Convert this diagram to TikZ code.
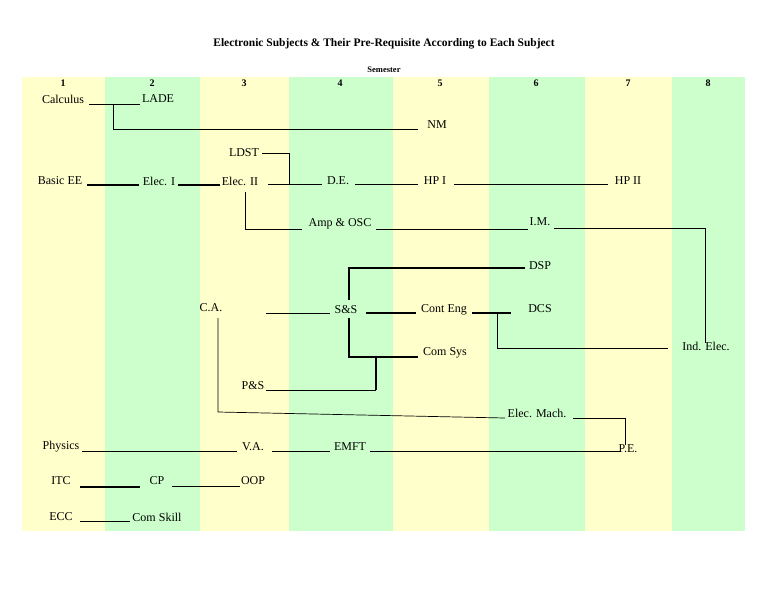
\documentclass[tikz,border=0pt]{standalone}
\usepackage{fontspec}
\setmainfont{Liberation Serif}
\definecolor{ylw}{HTML}{FFFFCC}
\definecolor{grn}{HTML}{CCFFCC}
\begin{document}
\begin{tikzpicture}[x=1pt,y=-1pt,
  subj/.style={inner sep=1pt,font=\fontsize{12}{13}\selectfont},
  hdr/.style={inner sep=1pt,font=\fontsize{10}{11}\selectfont\bfseries},
  ln/.style={line width=0.7pt},
  tk/.style={line width=1.4pt}]
\useasboundingbox (0,0) rectangle (768,594);
\fill[white] (0,0) rectangle (768,594);
\fill[ylw] (22,77) rectangle (105,531);
\fill[grn] (105,77) rectangle (200,531);
\fill[ylw] (200,77) rectangle (289,531);
\fill[grn] (289,77) rectangle (393,531);
\fill[ylw] (393,77) rectangle (489,531);
\fill[grn] (489,77) rectangle (585,531);
\fill[ylw] (585,77) rectangle (672,531);
\fill[grn] (672,77) rectangle (745,531);
\node[inner sep=0pt,font=\fontsize{11.5}{12}\selectfont\bfseries] (title) at (384,44) {Electronic Subjects \& Their Pre-Requisite According to Each Subject};
\node[inner sep=0pt,font=\fontsize{8.5}{9}\selectfont\bfseries] (sem) at (384,70) {Semester};
\foreach \x/\n in {63/1,152/2,244/3,340/4,440/5,536/6,628/7,708/8} \node[hdr] (h\n) at (\x,83) {\n};
\node[subj] (calc) at (63,99) {Calculus};
\node[subj] (lade) at (158,99) {LADE};
\node[subj] (nm) at (437,125) {NM};
\node[subj] (ldst) at (244,153) {LDST};
\node[subj] (bee) at (60,181) {Basic EE};
\node[subj] (e1) at (159,181) {Elec. I};
\node[subj] (e2) at (240,181) {Elec. II};
\node[subj] (de) at (338,181) {D.E.};
\node[subj] (hp1) at (435,181) {HP I};
\node[subj] (hp2) at (628,181) {HP II};
\node[subj] (amp) at (340,224) {Amp \& OSC};
\node[subj] (im) at (540,222) {I.M.};
\node[subj] (dsp) at (540,266) {DSP};
\node[subj] (ca) at (211,308) {C.A.};
\node[subj] (ss) at (346,310) {S\&S};
\node[subj] (ce) at (444,310) {Cont Eng};
\node[subj] (dcs) at (540,309) {DCS};
\node[subj] (ie) at (706,346) {Ind. Elec.};
\node[subj] (cs) at (445,353) {Com Sys};
\node[subj] (ps) at (253,386) {P\&S};
\node[subj] (em) at (537,413) {Elec. Mach.};
\node[subj] (phy) at (61,447) {Physics};
\node[subj] (va) at (253,447) {V.A.};
\node[subj] (emft) at (350,447) {EMFT};
\node[subj] (pe) at (628,449) {P.E.};
\node[subj] (itc) at (61,481) {ITC};
\node[subj] (cp) at (157,481) {CP};
\node[subj] (oop) at (253,481) {OOP};
\node[subj] (ecc) at (61,517) {ECC};
\node[subj] (csk) at (157,517) {Com Skill};
% connectors
\draw[ln] (89,104) -- (140,104);
\draw[ln] (113,104) |- (418,129);
\draw[ln] (262,153) -| (289,184);
\draw[tk] (87,185) -- (139,185);
\draw[tk] (178,185) -- (220,185);
\draw[ln] (268,184) -- (322,184);
\draw[ln] (355,184) -- (418,184);
\draw[ln] (454,184) -- (608,184);
\draw[ln] (245,192) |- (302,229);
\draw[ln] (376,229) -- (528,229);
\draw[ln] (554,228) -| (705,343);
\draw[tk] (525,268) -| (349,300);
\draw[tk] (349,318) |- (418,357);
\draw[ln] (266,390) -- (376,390);
\draw[tk] (376,390) -- (376,357);
\draw[ln] (266,313) -- (330,313);
\draw[tk] (366,313) -- (416,313);
\draw[tk] (472,313) -- (511,313);
\draw[ln] (497,313) |- (668,348);
\draw[ln] (218,318) -- (218,412) -- (505,418);
\draw[ln] (573,418) -| (625,445);
\draw[ln] (82,451) -- (237,451);
\draw[ln] (272,451) -- (330,451);
\draw[ln] (370,451) -- (620,451);
\draw[tk] (80,487) -- (140,487);
\draw[ln] (172,486) -- (240,486);
\draw[ln] (80,521) -- (130,521);
\end{tikzpicture}
\end{document}
